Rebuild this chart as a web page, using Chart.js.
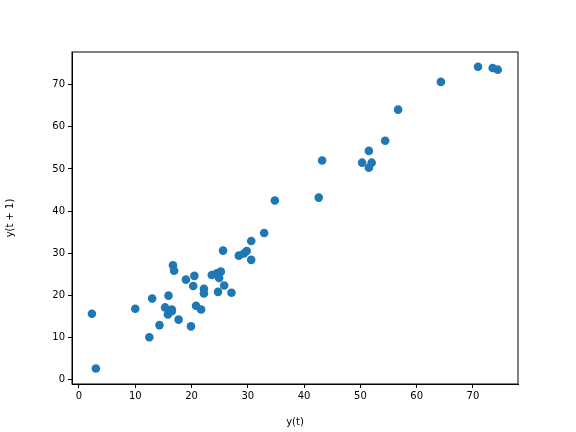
<!DOCTYPE html>
<html><head><script src="https://cdn.jsdelivr.net/npm/chart.js@4"></script>
<style>body{margin:0;background:#fff}#w{width:576px;height:432px}</style></head>
<body><div id="w"><canvas id="c"></canvas></div>
<script>
const yt = [2.3,3.0,10.0,13.0,12.5,14.3,15.9,15.3,16.5,15.8,16.5,16.7,16.9,17.7,19.0,19.9,20.3,20.5,20.8,21.7,22.2,22.2,23.6,24.5,25.2,24.9,24.7,25.8,25.6,27.1,28.4,29.3,29.8,30.6,30.6,32.9,34.8,42.6,43.2,50.3,51.5,51.5,52.0,54.4,56.7,64.3,70.9,73.5,74.4];
const yt1 = [15.6,2.6,16.8,19.2,10.0,12.9,19.9,17.1,16.6,15.4,16.2,27.1,25.8,14.2,23.7,12.6,22.2,24.6,17.5,16.6,21.5,20.4,24.8,25.2,25.6,24.1,20.8,22.3,30.6,20.6,29.4,29.9,30.5,32.9,28.4,34.8,42.5,43.2,52.0,51.5,54.3,50.3,51.5,56.7,64.1,70.7,74.3,74.0,73.6];
const ticks = [0,10,20,30,40,50,60,70];
const font = {family:'DejaVu Sans', size:10};
const fix = ax => { ax.ticks = ticks.map(v=>({value:v})); };
new Chart(document.getElementById('c'), {
  type:'scatter',
  data:{datasets:[{data:yt.map((x,i)=>({x:x,y:yt1[i]})), backgroundColor:'#1f77b4', borderWidth:0, pointRadius:4.3}]},
  options:{responsive:true, maintainAspectRatio:false, animation:false,
    layout:{padding:{top:52,right:58,left:0,bottom:0}},
    plugins:{legend:{display:false},tooltip:{enabled:false}},
    scales:{
      x:{min:-1.24,max:78,afterBuildTicks:fix, afterFit:s=>{s.height=48;},
        border:{color:'#000',width:1},
        grid:{drawOnChartArea:false,color:'#000',tickLength:4},
        ticks:{color:'#000',font:font,padding:2,maxRotation:0},
        title:{display:true,text:'y(t)',color:'#000',font:font,padding:{top:2}}},
      y:{min:-1.1,max:77.8,afterBuildTicks:fix, afterFit:s=>{s.width=72;},
        border:{color:'#000',width:1},
        grid:{drawOnChartArea:false,color:'#000',tickLength:4},
        ticks:{color:'#000',font:font,padding:3},
        title:{display:true,text:'y(t + 1)',color:'#000',font:font,padding:{bottom:4}}}
    }},
  plugins:[{id:'frame',afterDraw(c){const a=c.chartArea,x=c.ctx;x.save();x.strokeStyle='#000';x.lineWidth=1;x.strokeRect(a.left,a.top,a.right-a.left,a.bottom-a.top);x.restore();}}]
});
</script></body></html>
